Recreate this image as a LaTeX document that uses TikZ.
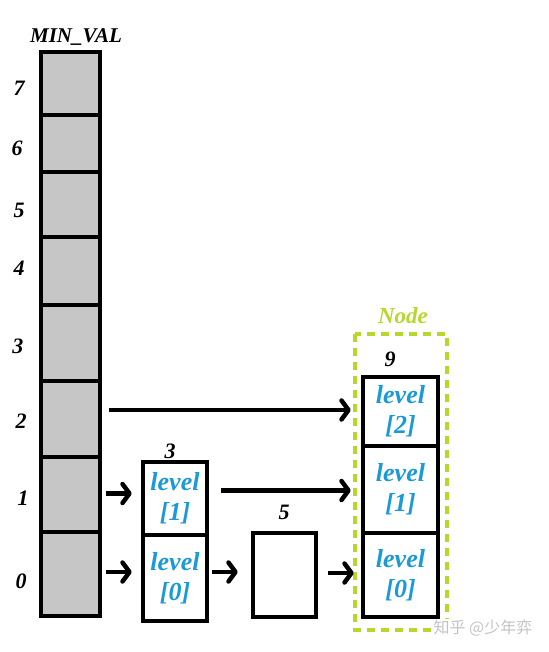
\documentclass[tikz,border=0pt]{standalone}
\usepackage{fontspec}
\setmainfont{Liberation Serif}
\newfontfamily\cjk{Noto Sans CJK SC}
\usetikzlibrary{arrows.meta}
\definecolor{lvblue}{HTML}{1B9AD7}
\definecolor{nodegreen}{HTML}{B5D92A}
\definecolor{cellgray}{HTML}{C6C6C6}
\definecolor{wmgray}{HTML}{C4C4C4}
\tikzset{
  cell/.style={draw=black, line width=4.5pt, fill=cellgray, minimum width=59pt, inner sep=0pt},
  lvbox/.style={draw=black, line width=4.5pt, fill=white, inner sep=0pt, text=lvblue,
    font=\fontsize{26}{30}\selectfont\bfseries\itshape, align=center},
  idx/.style={font=\fontsize{22}{24}\selectfont\bfseries\itshape, inner sep=0pt},
  arr/.style={line width=4.5pt, -{Straight Barb[length=7pt,width=19pt,round]}},
}
\begin{document}
\begin{tikzpicture}[x=1pt,y=-1pt]
\useasboundingbox[fill=white] (0,0) rectangle (548,652);
% column
\node[cell, minimum height=63pt] (c7) at (70.5,83.5) {};
\node[cell, minimum height=57pt] (c6) at (70.5,143.5) {};
\node[cell, minimum height=65pt] (c5) at (70.5,204.5) {};
\node[cell, minimum height=68pt] (c4) at (70.5,271) {};
\node[cell, minimum height=76pt] (c3) at (70.5,343) {};
\node[cell, minimum height=76pt] (c2) at (70.5,419) {};
\node[cell, minimum height=75pt] (c1) at (70.5,494.5) {};
\node[cell, minimum height=84pt] (c0) at (70.5,574) {};
\node[idx, font=\fontsize{21}{24}\selectfont\bfseries\itshape] (mv) at (76,37) {MIN\_VAL};
\node[idx] (l7) at (19,88) {7};
\node[idx] (l6) at (17,148) {6};
\node[idx] (l5) at (19,210) {5};
\node[idx] (l4) at (19,268) {4};
\node[idx] (l3) at (18,346) {3};
\node[idx] (l2) at (21,421) {2};
\node[idx] (l1) at (23,498) {1};
\node[idx] (l0) at (21,581) {0};
% green node frame
\draw[nodegreen, line width=4.5pt, dash pattern=on 8pt off 6pt] (355,334) rectangle (447,630);
\node[idx, text=nodegreen, font=\fontsize{23}{26}\selectfont\bfseries\itshape] (nl) at (403,316) {Node};
% node 3
\node[lvbox, minimum width=64pt, minimum height=73pt] (a1) at (175,498.5) {level\\{[1]}};
\node[lvbox, minimum width=64pt, minimum height=86pt] (a0) at (175,578) {level\\{[0]}};
\node[idx] (t3) at (170,451) {3};
% node 5
\node[lvbox, minimum width=63pt, minimum height=84pt] (b0) at (284.5,575) {};
\node[idx] (t5) at (284,512) {5};
% node 9
\node[lvbox, minimum width=75pt, minimum height=69pt] (d2) at (400.5,411.5) {level\\{[2]}};
\node[lvbox, minimum width=75pt, minimum height=87pt] (d1) at (400.5,489.5) {level\\{[1]}};
\node[lvbox, minimum width=75pt, minimum height=84pt] (d0) at (400.5,575) {level\\{[0]}};
\node[idx] (t9) at (390,359) {9};
% arrows
\draw[arr] ([xshift=7pt,yshift=9pt]c2.east) -- ([xshift=-10pt,yshift=9pt]c2.east -| d2.west);
\draw[arr] ([xshift=4pt,yshift=1pt]c1.east) -- ([xshift=-9pt,yshift=1pt]c1.east -| a1.west);
\draw[arr] ([xshift=12pt,yshift=8pt]a1.east) -- ([xshift=-10pt,yshift=8pt]a1.east -| d1.west);
\draw[arr] ([xshift=4pt,yshift=2pt]c0.east) -- ([xshift=-9pt,yshift=2pt]c0.east -| a0.west);
\draw[arr] ([xshift=3pt,yshift=6pt]a0.east) -- ([xshift=-13pt,yshift=6pt]a0.east -| b0.west);
\draw[arr] ([xshift=10pt,yshift=2pt]b0.east) -- ([xshift=-7pt,yshift=2pt]b0.east -| d0.west);
% watermark
\node[text=wmgray, fill=white, font=\cjk\fontsize{16}{18}\selectfont, inner sep=1pt] (wm) at (483,628) {知乎 @少年弈};
\end{tikzpicture}
\end{document}
